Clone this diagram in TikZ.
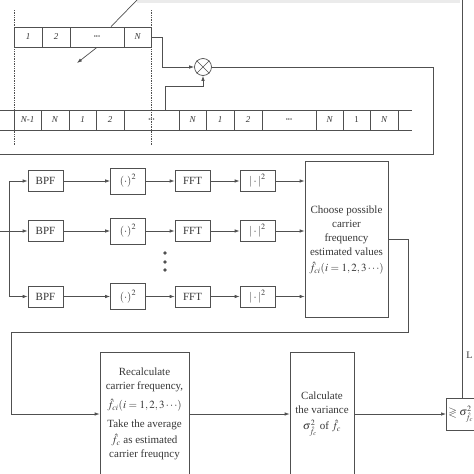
\documentclass[tikz,border=0pt]{standalone}
\usepackage{mathptmx}
\usepackage{amssymb}
\usepackage{fontspec}
\setmainfont{Liberation Serif}
\usetikzlibrary{arrows.meta}
\definecolor{ln}{HTML}{505050}
\definecolor{tx}{HTML}{363636}
\newcommand{\celldots}{{\upshape\fontsize{6}{6}\selectfont\textbullet\textbullet\textbullet}}
\tikzset{
  box/.style={draw=ln, inner sep=1pt, minimum width=35pt, minimum height=21pt,
    font=\fontsize{11}{14}\selectfont, text=tx},
  cell/.style={draw=ln, inner sep=0pt, minimum height=20pt,
    font=\fontsize{9}{10}\selectfont\itshape, text=tx},
  >={Latex[length=5pt,width=3.5pt]}
}

\begin{document}
\begin{tikzpicture}[x=1pt,y=-1pt,line width=0.7pt,color=ln]
\useasboundingbox (0,0) rectangle (474,474);
\clip (0,0) rectangle (474,474);

% 上部的帧
\fill[black!8] (137,0) rectangle (460,2.5);
\foreach \a/\b/\t [count=\i] in {14/42/1,42/70/2,70/124/\celldots,124/151/N}
  \node[cell, minimum width={(\b-\a)*1pt}] (t\i) at ({(\a+\b)/2},37) {\t};
\draw (0,110) -- (412,110) (0,130) -- (412,130);
\foreach \a/\b/\t [count=\i] in {14/41/N-1,41/69/N,69/96/1,96/124/2,124/179/\celldots,179/206/N,
    206/234/1,234/262/2,262/316/\celldots,316/343/N,343/370/{\upshape 1},370/398/N}
  \node[cell, minimum width={(\b-\a)*1pt}] (s\i) at ({(\a+\b)/2},120) {\t};
\draw[densely dotted] (14,10) -- (14,145) (151,10) -- (151,145);
\draw (137,0) -- ([xshift=14pt]t3.north);
\draw[->] (t3.south) -- (77,63);

% 乘法器
\node[circle, draw=ln, minimum size=17pt, inner sep=0pt] (mul) at (203,67) {};
\draw (mul.north west) -- (mul.south east) (mul.north east) -- (mul.south west);
\draw[->] (t4.east) -- ++(11,0) |- (mul.west);
\draw[->] ([xshift=13.5pt]s5.north) -- ++(0,-23) -| (mul.south);
\draw (mul.east) -- (433,67) -- (433,154) -- (0,154);

% 中间的支路
\node[box, minimum width=83pt, minimum height=156pt, align=center] (choose) at (346.5,239)
  {\\[-4pt]Choose possible\\carrier\\frequency\\estimated values\\[2pt]$\hat f_{ci}(i=1,2,3\cdots)$};
\foreach \r/\y in {1/181,2/231,3/296.5} {
  \node[box] (bpf\r) at (45.5,\y) {BPF};
  \node[box, minimum height=26pt] (sq\r) at (128,\y) {$\left(\cdot\right)^2$};
  \node[box] (fft\r) at (192.5,\y) {FFT};
  \node[box] (abs\r) at (257.5,\y) {$\left|\,\cdot\,\right|^2$};
  \draw[->] (bpf\r) -- (sq\r);
  \draw[->] (sq\r) -- (fft\r);
  \draw[->] (fft\r) -- (abs\r);
  \draw[->] (abs\r.east) -- (abs\r.east -| choose.west);
}
\foreach \y in {253,262,270} \fill (165,\y) circle (1.8pt);
\coordinate (in) at (0,231);
\coordinate (br) at (9,231);
\draw[->] (in) -- (bpf2.west);
\draw[->] (br) |- (bpf1.west);
\draw[->] (br) |- (bpf3.west);

% 下部
\node[box, minimum width=89pt, minimum height=124pt, align=center] (recalc) at (144.5,414)
  {Recalculate\\carrier frequency,\\[5pt]$\hat f_{ci}(i=1,2,3\cdots)$\\[5pt]Take the average\\[2pt]$\hat f_c$ as estimated\\carrier freuqncy};
\node[box, minimum width=64pt, minimum height=124pt, align=center] (calc) at (322,414)
  {Calculate\\the variance\\[2pt]$\sigma^2_{\hat f_c}$ of $\hat f_c$};
\node[box, anchor=west, minimum height=32pt, text width=42pt, align=left, inner xsep=2pt] (cmp) at (446,414)
  {$\gtrless\sigma^2_{\hat f_c}$};
\draw[->] (choose.east) -- (408,239) -- (408,332) -- (11,332) |- (recalc.west);
\draw[->] (recalc.east) -- (calc.west);
\draw[->] (calc.east) -- (cmp.west);
\coordinate (topR) at (462,0);
\draw (topR) -- (topR |- cmp.north);
\node[anchor=west, inner sep=0pt, font=\fontsize{10}{12}\selectfont, text=tx] (lab) at (466,355) {L};
\end{tikzpicture}
\end{document}
